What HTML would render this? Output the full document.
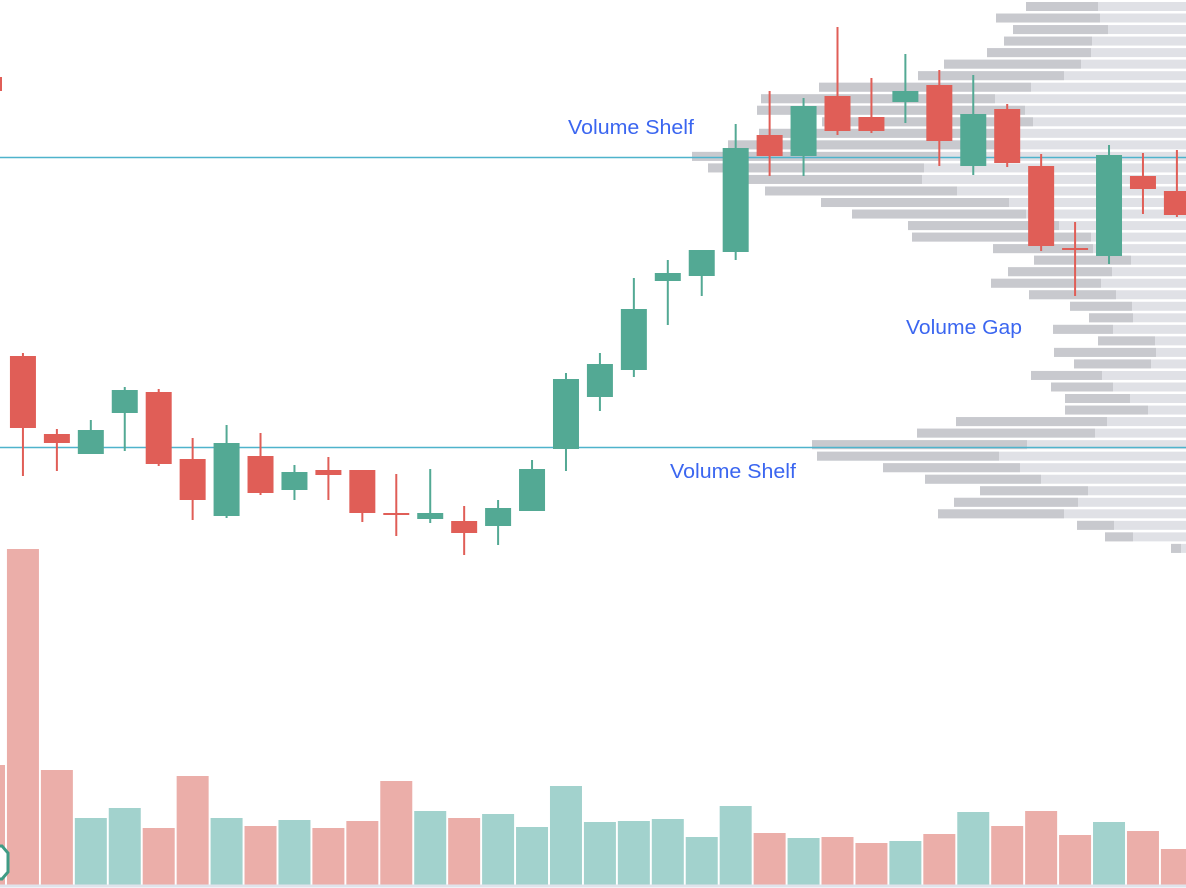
<!DOCTYPE html>
<html><head><meta charset="utf-8">
<style>
html,body{margin:0;padding:0;background:#fff;overflow:hidden}
svg{display:block}
text{font-family:"Liberation Sans",sans-serif}
</style></head>
<body>
<svg id="chart" width="1186" height="888" viewBox="0 0 1186 888" xmlns="http://www.w3.org/2000/svg">
<g id="profile"></g>
<g id="levels"></g>
<g id="candles"></g>
<g id="vols"></g>
<line x1="0" y1="886" x2="1186" y2="886" stroke="#e0e3eb" stroke-width="3"/>
<path d="M-4 846 L2 846 L8 853 L8 872 L2 879 L-4 879 Z" fill="#fff" stroke="#3f9b85" stroke-width="3"/>
<text x="568" y="134" font-size="20" textLength="126" lengthAdjust="spacingAndGlyphs" fill="#3b66f0">Volume Shelf</text>
<text x="670" y="478" font-size="20" textLength="126" lengthAdjust="spacingAndGlyphs" fill="#3b66f0">Volume Shelf</text>
<text x="906" y="334" font-size="20" textLength="116" lengthAdjust="spacingAndGlyphs" fill="#3b66f0">Volume Gap</text>
</svg>
<script>
// price units: price = 600 - pixelY
const opens  = [523,244,166,146,187,208,141,84,144,110,130,130,87,81,79,74,89,151,203,230,319,324,348,465,444,504,483,498,515,434,491,434,352,344,424,409];
const closes = [509,172,157,170,210,136,100,157,107,128,125,87,85,87,67,92,131,221,236,291,327,350,452,444,494,469,469,509,459,486,437,354,350,445,411,385];
const highs  = [523,247,171,180,213,211,162,175,167,135,143,130,126,131,94,100,140,227,247,322,340,350,476,509,502,573,522,546,530,525,496,446,378,455,447,450];
const lows   = [509,124,129,146,149,134,80,82,105,100,100,78,64,77,45,55,89,129,189,223,275,304,340,424,424,465,467,477,434,425,433,349,304,336,386,383];
const volumes= [120,336,115,67,77,57,109,67,59,65,57,64,104,74,67,71,58,99,63,64,66,48,79,52,47,48,42,44,51,73,59,74,50,63,54,36];
const shelfLevels=[443,153];
// volume profile rows: total volume and buy-side volume (from top row down)
const profTotal=[160,190,173,182,199,242,268,367,425,429,364,427,458,494,478,439,421,365,334,278,274,193,152,178,195,157,116,97,133,88,132,112,155,135,121,121,230,269,374,369,303,261,206,232,248,109,81,15];
const profBuy  =[72,104,95,88,104,137,146,212,234,268,211,261,282,248,216,175,192,188,174,151,179,100,97,104,110,87,62,44,60,57,102,77,71,62,65,83,151,178,215,182,137,116,108,124,126,37,28,10];

const NS='http://www.w3.org/2000/svg';
function mk(t,a,p){const e=document.createElementNS(NS,t);for(const k in a)e.setAttribute(k,a[k]);p.appendChild(e);return e;}
const xScale=i=>-11+i*33.94;
const yScale=p=>600-p;
const vScale=v=>885-v;
const rowY=i=>2+i*11.53;
const profX=v=>1186-v;
const RED='#e05e57',GREEN='#53a994';

const prof=document.getElementById('profile');
for(let i=0;i<profTotal.length;i++){
  const y=rowY(i),x0=profX(profTotal[i]);
  const a=mk('rect',{x:x0,y:y,width:profTotal[i],height:9,fill:'#e0e1e6'},prof);
  
  
  const b=mk('rect',{x:x0,y:y,width:profBuy[i],height:9,fill:'#c8c9ce'},prof);
  
  
}
const lv=document.getElementById('levels');
for(const p of shelfLevels){
  const l=mk('line',{x1:0,x2:1186,y1:yScale(p)+0.5,y2:yScale(p)+0.5,stroke:'#4fb3cc','stroke-width':1.5},lv);
  
  
}
const cg=document.getElementById('candles');
const vg=document.getElementById('vols');
for(let i=0;i<opens.length;i++){
  const up=closes[i]>=opens[i],c=up?GREEN:RED,x=xScale(i);
  const w=mk('rect',{x:x-1,y:yScale(highs[i]),width:2,height:yScale(lows[i])-yScale(highs[i]),fill:c},cg);
  
  
  const top=yScale(Math.max(opens[i],closes[i])),bot=yScale(Math.min(opens[i],closes[i]));
  const b=mk('rect',{x:x-13,y:top,width:26,height:Math.max(2,bot-top),fill:c},cg);
  
  
  const v=mk('rect',{x:x-16,y:vScale(volumes[i]),width:32,height:volumes[i],fill:up?'#a2d2cd':'#ebaea9'},vg);
  
  
}
</script>
</body></html>
